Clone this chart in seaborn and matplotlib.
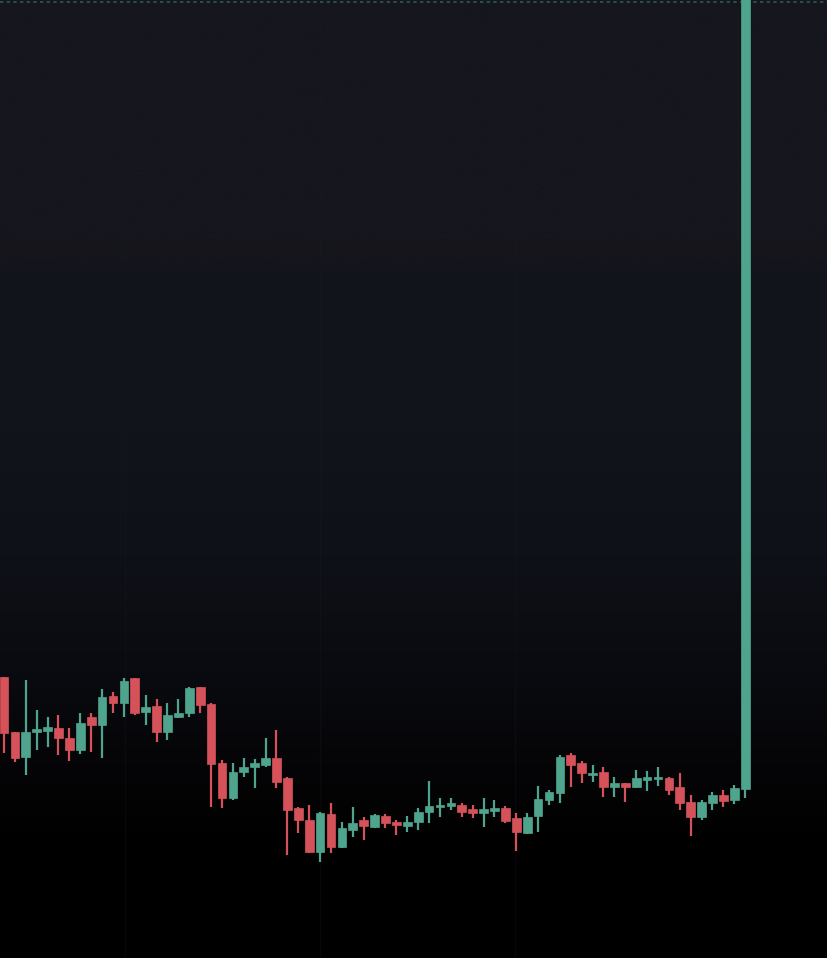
import numpy as np
import pandas as pd
import seaborn as sns
import matplotlib
matplotlib.use("Agg")
import matplotlib.pyplot as plt
from matplotlib.colors import LinearSegmentedColormap

# ---- data (price units) ----
opens = [32.3, 26.8, 24.3, 26.8, 26.9, 27.2, 26.2, 25.0, 28.3, 27.5,
         30.4, 29.7, 32.2, 28.8, 29.4, 26.8, 28.3, 28.7, 31.3, 29.6,
         23.7, 20.2, 22.8, 23.3, 23.5, 24.2, 22.2, 19.2, 18.0, 14.8,
         18.6, 15.3, 17.0, 18.0, 17.3, 18.4, 17.8, 17.4, 17.8, 18.8,
         19.3, 19.4, 19.5, 19.1, 18.7, 18.9, 19.2, 18.2, 16.7, 18.4,
         20.0, 20.7, 24.5, 23.7, 22.5, 22.8, 21.3, 21.7, 21.3, 22.0,
         22.1, 22.2, 21.3, 19.8, 18.3, 19.7, 20.5, 20.0, 21.1]
highs = [32.3, 26.8, 32.0, 29.0, 28.3, 28.5, 27.2, 28.7, 28.7, 31.1,
         30.8, 32.2, 32.2, 30.5, 30.1, 29.7, 30.1, 31.3, 31.3, 29.7,
         24.0, 23.7, 24.2, 24.1, 26.2, 27.0, 22.3, 19.3, 19.5, 18.8,
         19.7, 17.8, 19.3, 18.3, 18.6, 18.6, 18.0, 18.4, 19.2, 21.9,
         20.2, 20.2, 19.7, 19.5, 20.2, 20.0, 19.4, 18.7, 18.7, 21.4,
         21.0, 24.5, 24.7, 23.9, 23.5, 23.3, 22.3, 21.7, 23.0, 22.9,
         23.3, 22.3, 22.7, 20.5, 20.0, 20.8, 21.0, 21.5, 101.0]
lows = [24.7, 23.8, 22.5, 25.0, 25.3, 24.5, 23.9, 24.6, 24.8, 24.2,
        28.7, 28.3, 28.5, 27.5, 25.8, 26.0, 28.2, 28.3, 28.7, 19.3,
        19.2, 20.0, 22.3, 21.2, 23.3, 21.2, 14.5, 16.7, 14.7, 13.8,
        14.7, 15.2, 16.3, 16.0, 17.2, 17.2, 16.5, 16.8, 17.0, 17.7,
        18.3, 19.0, 18.3, 18.2, 17.3, 18.3, 17.7, 14.9, 16.6, 16.8,
        19.5, 19.7, 21.3, 21.7, 21.8, 20.3, 20.3, 19.8, 21.2, 20.9,
        21.4, 20.5, 19.0, 16.4, 18.0, 19.0, 19.3, 19.6, 20.2]
closes = [26.7, 24.2, 26.8, 27.1, 27.3, 26.2, 25.0, 27.7, 27.5, 30.3,
          29.7, 31.9, 28.7, 29.3, 26.8, 28.5, 28.7, 31.2, 29.5, 23.6,
          20.2, 22.8, 23.3, 23.7, 24.2, 21.8, 19.0, 18.0, 14.8, 18.7,
          15.3, 17.2, 17.7, 17.4, 18.5, 17.7, 17.5, 17.8, 18.8, 19.4,
          19.5, 19.7, 18.8, 18.7, 19.1, 19.2, 17.9, 16.8, 18.3, 20.1,
          20.8, 24.3, 23.5, 22.7, 22.7, 21.3, 21.7, 21.3, 22.2, 22.3,
          22.3, 21.0, 19.7, 18.3, 19.8, 20.5, 19.9, 21.2, 101.0]

UP = "#4fa48e"
DOWN = "#d6525a"

df = pd.DataFrame({"open": opens, "high": highs, "low": lows, "close": closes})
df["idx"] = np.arange(len(df))
df["up"] = df["close"] >= df["open"]
df["color"] = np.where(df["up"], UP, DOWN)
df["body_bot"] = df[["open", "close"]].min(axis=1)
df["body_h"] = (df["open"] - df["close"]).abs().clip(lower=0.25)

sns.set_theme(style="dark", rc={"axes.facecolor": "#000000", "figure.facecolor": "#000000"})

fig = plt.figure(figsize=(8.28, 9.58), dpi=100)
ax = fig.add_axes([0, 0, 1, 1])

x_lo, x_hi = -4 / 10.9, (828 - 4) / 10.9
y_lo, y_hi = (1000 - 958) / 10, 100.0
ax.set_xlim(x_lo, x_hi)
ax.set_ylim(y_lo, y_hi)

# background gradient (top = dark navy, bottom = black)
stops = [(0.0, "#15171f"), (0.25, "#15161e"), (0.265, "#17151c"), (0.28, "#13151d"),
         (0.45, "#12141c"), (0.58, "#0f1118"), (0.70, "#0a0b10"),
         (0.80, "#050507"), (0.89, "#000000"), (1.0, "#000000")]
cmap = LinearSegmentedColormap.from_list("bg", stops)
grad = np.linspace(0, 1, 512).reshape(-1, 1)
ax.imshow(grad, extent=[x_lo, x_hi, y_lo, y_hi], aspect="auto", cmap=cmap,
          origin="upper", zorder=0, interpolation="bicubic")

# very faint vertical grid lines
for gx in [(125 - 4) / 10.9, (320 - 4) / 10.9, (515 - 4) / 10.9]:
    ax.axvline(gx, color="#1a1d26", lw=1.0, alpha=0.25, zorder=1)

# dashed price line at the top
ax.axhline(99.85, color="#2f5753", lw=1.2, ls=(0, (2, 2)), zorder=2)

# wicks
ax.vlines(df["idx"], df["low"], df["high"], colors=df["color"], lw=1.6, zorder=3)
# bodies
ax.bar(df["idx"], df["body_h"], bottom=df["body_bot"], width=0.8,
       color=df["color"], edgecolor=df["color"], linewidth=0.5, zorder=4)

ax.set_axis_off()
fig.savefig("out.png", dpi=100, facecolor="#000000")
